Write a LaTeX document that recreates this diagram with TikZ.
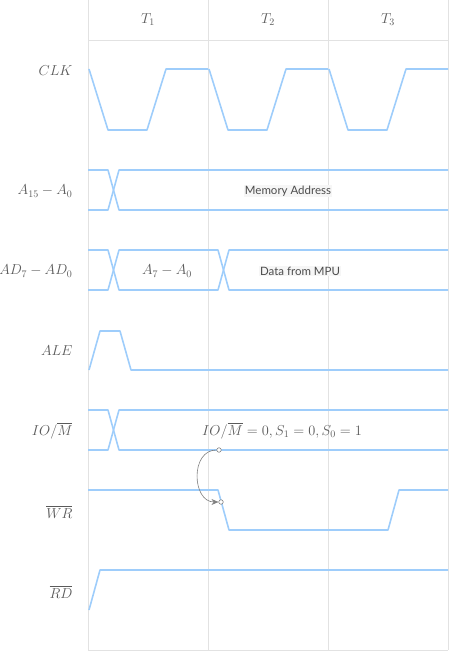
\documentclass[tikz,border=0pt]{standalone}
\usepackage{amsmath}
\usepackage{fontspec}
\newfontfamily\busfont{Lato}
\usetikzlibrary{arrows.meta}
\definecolor{sigBlue}{HTML}{9ECDFB}
\definecolor{gridGray}{HTML}{E2E2E2}
\definecolor{textGray}{HTML}{5A5A5A}
\definecolor{tagGray}{HTML}{F6F6F6}

\begin{document}
\begin{tikzpicture}[x=1pt, y=-1pt,
    signal/.style={sigBlue, line width=1.6pt, line join=round},
    gridline/.style={gridGray, line width=0.8pt},
    sigName/.style={textGray, anchor=east, font=\fontsize{14}{16}\selectfont},
    busText/.style={textGray!85!black, fill=tagGray, inner sep=1pt, font=\busfont\fontsize{11.5}{13}\selectfont},
    busMath/.style={textGray, font=\fontsize{14}{16}\selectfont},
    dot/.style={circle, draw=gray, fill=white, line width=0.6pt, inner sep=0pt, minimum size=4.5pt}]
    \useasboundingbox (0,0) rectangle (452,652);

    % Grid
    \foreach \x in {88,208,328,448}
        \draw[gridline] (\x,0) -- (\x,650);
    \draw[gridline] (88,40) -- (448,40);
    \draw[gridline] (88,650) -- (448,650);

    % Periods
    \foreach \i/\x in {1/148,2/268,3/388}
        \node[busMath] (t\i) at (\x,20) {$T_\i$};

    % Signal names
    \node[sigName] (clkName) at (76,71) {$CLK$};
    \node[sigName] (addrName) at (76,191) {$A_{15}-A_0$};
    \node[sigName] (adName) at (76,271) {$AD_7-AD_0$};
    \node[sigName] (aleName) at (76,351) {$ALE$};
    \node[sigName] (ioName) at (76,431) {$IO/\overline{M}$};
    \node[sigName] (wrName) at (76,512) {$\overline{WR}$};
    \node[sigName] (rdName) at (76,592) {$\overline{RD}$};

    % CLK
    \foreach \x in {88,208,328}
        \draw[signal] (\x+1,69) -- (\x+20,130) -- (\x+59,130) -- (\x+78,69) -- (\x+120,69);

    % A15-A0
    \draw[signal] (88,170) -- (108,170) -- (119,210) -- (448,210);
    \draw[signal] (88,210) -- (108,210) -- (119,170) -- (448,170);
    \node[busText] (memAddr) at (288,191) {Memory Address};

    % AD7-AD0
    \draw[signal] (88,250) -- (108,250) -- (119,290) -- (218,290) -- (229,250) -- (448,250);
    \draw[signal] (88,290) -- (108,290) -- (119,250) -- (218,250) -- (229,290) -- (448,290);
    \node[busMath] (lowAddr) at (167,271) {$A_7-A_0$};
    \node[busText] (mpuData) at (300,271) {Data from MPU};

    % ALE
    \draw[signal] (89,370) -- (100,331) -- (120,331) -- (131,370) -- (448,370);

    % IO/M
    \draw[signal] (88,410) -- (108,410) -- (119,450) -- (448,450);
    \draw[signal] (88,450) -- (108,450) -- (119,410) -- (448,410);
    \node[busMath] (ioState) at (282,431) {$IO/\overline{M}=0, S_1=0, S_0=1$};

    % WR
    \draw[signal] (88,490) -- (218,490) -- (229,530) -- (388,530) -- (399,490) -- (448,490);

    % RD
    \draw[signal] (89,610) -- (100,570) -- (448,570);

    % IO/M -> WR
    \node[dot] (ioDot) at (219,450) {};
    \node[dot] (wrDot) at (221,502) {};
    \draw[gray, line width=0.6pt, -{Stealth[length=7pt, width=6pt]}] (ioDot) to[out=180, in=180, looseness=1.3] (wrDot);
\end{tikzpicture}
\end{document}
